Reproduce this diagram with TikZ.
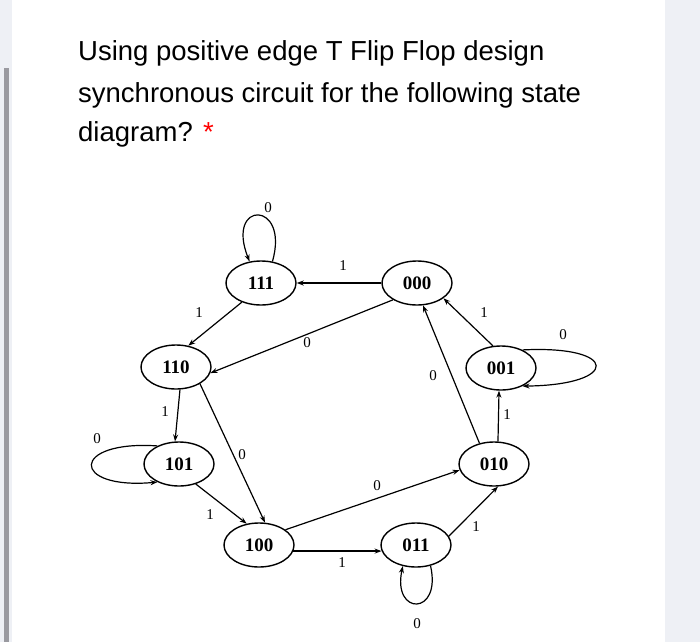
\documentclass[tikz,border=0pt]{standalone}
\usepackage{fontspec}
\setmainfont{Liberation Serif}
\newfontfamily\qfont{Liberation Sans}
\usetikzlibrary{shapes.geometric,arrows.meta}
\definecolor{bgc}{HTML}{EEF0F5}
\definecolor{barc}{HTML}{9A9AA0}
\begin{document}
\begin{tikzpicture}[x=1pt,y=-1pt,
  st/.style={draw,ellipse,line width=1.4pt,minimum width=70pt,minimum height=44pt,inner sep=0pt,font=\fontsize{19}{19}\selectfont\bfseries},
  ed/.style={line width=1.2pt,-{Stealth[length=7pt,width=5pt]}},
  lb/.style={font=\fontsize{15}{15}\selectfont,inner sep=0pt}]
\useasboundingbox (0,0) rectangle (700,642);
\fill[bgc] (0,0) rectangle (700,642);
\fill[white] (12,0) rectangle (665,642);
\fill[barc] (4,68) rectangle (9,642);
\node[anchor=base west,font=\qfont\fontsize{27.5}{27.5}\selectfont,inner sep=0pt] (t1) at (78,60) {Using positive edge T Flip Flop design};
\node[anchor=base west,font=\qfont\fontsize{27.5}{27.5}\selectfont,inner sep=0pt] (t2) at (78,102) {synchronous circuit for the following state};
\node[anchor=base west,font=\qfont\fontsize{27.5}{27.5}\selectfont,inner sep=0pt] (t3) at (78,141) {diagram? \textcolor{red}{*}};
\node[st] (s111) at (261,283) {111};
\node[st] (s000) at (417,283) {000};
\node[st] (s110) at (176,367) {110};
\node[st] (s001) at (501,368) {001};
\node[st] (s101) at (179,464) {101};
\node[st] (s010) at (494,464) {010};
\node[st] (s100) at (259,545) {100};
\node[st] (s011) at (416,545) {011};
\draw[ed] (s000) -- (s111);
\node[lb] (l1) at (343,266) {1};
\draw[ed] (s111.62) .. controls (290,200) and (225,200) .. (s111.118);
\node[lb] (l2) at (268,208) {0};
\draw[ed] (s111.225) -- (s110.60);
\node[lb] (l3) at (199,313) {1};
\draw[ed] (s000.215) -- (s110.-10);
\node[lb] (l4) at (307,343) {0};
\draw[ed] (s001.110) -- (s000.-30);
\node[lb] (l5) at (484,313) {1};
\draw[ed] (s001.40) .. controls (620,345) and (620,385) .. (s001.-40);
\node[lb] (l6) at (563,335) {0};
\draw[ed] (s010.125) -- (s000.-75);
\node[lb] (l7) at (433,376) {0};
\draw[ed] (s010.80) -- (s001.-95);
\node[lb] (l8) at (507,415) {1};
\draw[ed] (s110.-80) -- (s101.100);
\node[lb] (l9) at (165,412) {1};
\draw[ed] (s110.-35) -- (s100.75);
\node[lb] (l10) at (242,455) {0};
\draw[ed] (s101.140) .. controls (70,440) and (70,490) .. (s101.-140);
\node[lb] (l11) at (97,439) {0};
\draw[ed] (s101.-50) -- (s100.120);
\node[lb] (l12) at (210,515) {1};
\draw[ed] (s100.30) -- (s010.190);
\node[lb] (l13) at (377,486) {0};
\draw[ed] (s100.-10) -- (s011.190);
\node[lb] (l14) at (342,563) {1};
\draw[ed] (s011.15) -- (s010.-80);
\node[lb] (l15) at (476,527) {1};
\draw[ed] (s011.-55) .. controls (442,616) and (392,616) .. (s011.-122);
\node[lb] (l16) at (417,624) {0};
\end{tikzpicture}
\end{document}
